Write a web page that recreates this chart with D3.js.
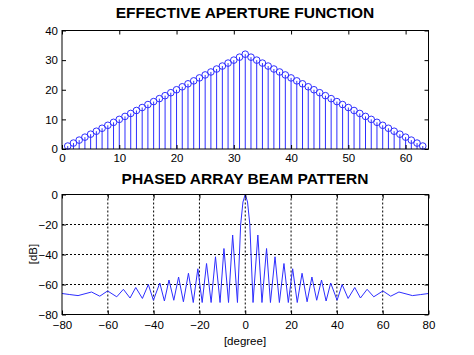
<!DOCTYPE html>
<html><head><meta charset="utf-8">
<script src="https://cdn.jsdelivr.net/npm/d3@7/dist/d3.min.js"></script>
<style>
html,body{margin:0;padding:0;background:#fff;}
text{font-family:"Liberation Sans",Arial,Helvetica,sans-serif;}
</style></head>
<body>
<svg id="chart" width="474" height="355"></svg>
<script>
// ---- data ----
const apertureIndex = [1,2,3,4,5,6,7,8,9,10,11,12,13,14,15,16,17,18,19,20,21,22,23,24,25,26,27,28,29,30,31,32,33,34,35,36,37,38,39,40,41,42,43,44,45,46,47,48,49,50,51,52,53,54,55,56,57,58,59,60,61,62,63];
const apertureValue = [1,2,3,4,5,6,7,8,9,10,11,12,13,14,15,16,17,18,19,20,21,22,23,24,25,26,27,28,29,30,31,32,31,30,29,28,27,26,25,24,23,22,21,20,19,18,17,16,15,14,13,12,11,10,9,8,7,6,5,4,3,2,1];
const beamAngle = [-80,-76.6,-73.0,-67.1,-63.5,-60.1,-56.1,-53.2,-50.3,-47.8,-44.9,-42.3,-40.1,-37.3,-35.3,-33.3,-31.2,-29.1,-27.0,-24.8,-22.7,-20.7,-18.8,-16.9,-14.9,-13.0,-11.0,-9.3,-7.3,-5.5,-3.4,-2.0,-1.0,0,
  1.0,2.0,3.4,5.5,7.3,9.3,11.0,13.0,14.9,16.9,18.8,20.7,22.7,24.8,27.0,29.1,31.2,33.3,35.3,37.3,40.1,42.3,44.9,47.8,50.3,53.2,56.1,60.1,63.5,67.1,73.0,76.6,80];
const beamDB = [-66,-66.7,-67.4,-65,-67.8,-64.3,-68.2,-63.2,-69,-62,-69.3,-60,-70.5,-59,-71,-57,-70.5,-55,-71.5,-52.5,-72,-49.5,-72,-46,-72,-41.5,-72,-36,-72,-27,-72,-20,-5,0,
  -5,-20,-72,-27,-72,-36,-72,-41.5,-72,-46,-72,-49.5,-72,-52.5,-71.5,-55,-70.5,-57,-71,-59,-70.5,-60,-69.3,-62,-69,-63.2,-68.2,-64.3,-67.8,-65,-67.4,-66.7,-66];
const topXTicks = [0,10,20,30,40,50,60];
const topYTicks = [0,10,20,30,40];
const botXTicks = [-80,-60,-40,-20,0,20,40,60,80];
const botYTicks = [-80,-60,-40,-20,0];

// ---- layout ----
const svg = d3.select("#chart");
const L = 62, R = 428.5;
const top1 = 30.5, bot1 = 149;
const top2 = 194.5, bot2 = 314.5;
const blue = "#2e2eff";

function frame(g, x, y, xt, yt, t, b, xpad) {
  g.append("g").attr("transform", `translate(0,${b})`)
    .call(d3.axisBottom(x).tickValues(xt).tickSize(-4).tickPadding(xpad).tickSizeOuter(0));
  g.append("g").attr("transform", `translate(0,${t})`)
    .call(d3.axisTop(x).tickValues(xt).tickSize(-4).tickFormat("").tickSizeOuter(0));
  g.append("g").attr("transform", `translate(${L},0)`)
    .call(d3.axisLeft(y).tickValues(yt).tickSize(-4).tickPadding(4).tickSizeOuter(0));
  g.append("g").attr("transform", `translate(${R},0)`)
    .call(d3.axisRight(y).tickValues(yt).tickSize(-4).tickFormat("").tickSizeOuter(0));
  g.selectAll(".tick text").attr("font-size", 11.5).attr("fill", "#000")
    .attr("font-family", '"Liberation Sans",Arial,sans-serif');
  g.selectAll(".tick line").attr("stroke", "#000");
  g.selectAll(".domain").remove();
  g.append("rect").attr("x", L).attr("y", t).attr("width", R - L).attr("height", b - t)
    .attr("fill", "none").attr("stroke", "#000").attr("stroke-width", 1);
}

// ---- top: effective aperture ----
const x1 = d3.scaleLinear().domain([0, 64]).range([L, R]);
const y1 = d3.scaleLinear().domain([0, 40]).range([bot1, top1]);
const g1 = svg.append("g");
const stems = g1.append("g");
apertureIndex.forEach((n, i) => {
  stems.append("line").attr("x1", x1(n)).attr("x2", x1(n))
    .attr("y1", y1(0)).attr("y2", y1(apertureValue[i]))
    .attr("stroke", blue).attr("stroke-width", 1);
});
apertureIndex.forEach((n, i) => {
  stems.append("circle").attr("cx", x1(n)).attr("cy", y1(apertureValue[i])).attr("r", 3.3)
    .attr("fill", "none").attr("stroke", blue).attr("stroke-width", 1);
});
frame(g1, x1, y1, topXTicks, topYTicks, top1, bot1, 5);
svg.append("text").attr("x", 245).attr("y", 18).attr("text-anchor", "middle")
  .attr("font-size", 15.5).attr("font-weight", "bold").text("EFFECTIVE APERTURE FUNCTION");

// ---- bottom: beam pattern ----
const x2 = d3.scaleLinear().domain([-80, 80]).range([L, R]);
const y2 = d3.scaleLinear().domain([-80, 0]).range([bot2, top2]);
const g2 = svg.append("g");
const grid = g2.append("g");
botXTicks.filter(v => v > -80 && v < 80).forEach(v => {
  grid.append("line").attr("x1", x2(v)).attr("x2", x2(v)).attr("y1", top2).attr("y2", bot2)
    .attr("stroke", "#000").attr("stroke-dasharray", "2,2").attr("stroke-width", 1);
});
botYTicks.filter(v => v > -80 && v < 0).forEach(v => {
  grid.append("line").attr("x1", L).attr("x2", R).attr("y1", y2(v)).attr("y2", y2(v))
    .attr("stroke", "#000").attr("stroke-dasharray", "2,2").attr("stroke-width", 1);
});
const pts = beamAngle.map((a, i) => [a, beamDB[i]]);
g2.append("path").datum(pts)
  .attr("d", d3.line().x(d => x2(d[0])).y(d => y2(d[1])))
  .attr("fill", "none").attr("stroke", blue).attr("stroke-width", 1);
frame(g2, x2, y2, botXTicks, botYTicks, top2, bot2, 6.5);
svg.append("text").attr("x", 245).attr("y", 184).attr("text-anchor", "middle")
  .attr("font-size", 15.5).attr("font-weight", "bold").text("PHASED ARRAY BEAM PATTERN");
svg.append("text").attr("x", 245).attr("y", 345).attr("text-anchor", "middle")
  .attr("font-size", 11.5).text("[degree]");
svg.append("text").attr("transform", "translate(37,254) rotate(-90)").attr("text-anchor", "middle")
  .attr("font-size", 11.5).text("[dB]");
</script>
</body></html>
